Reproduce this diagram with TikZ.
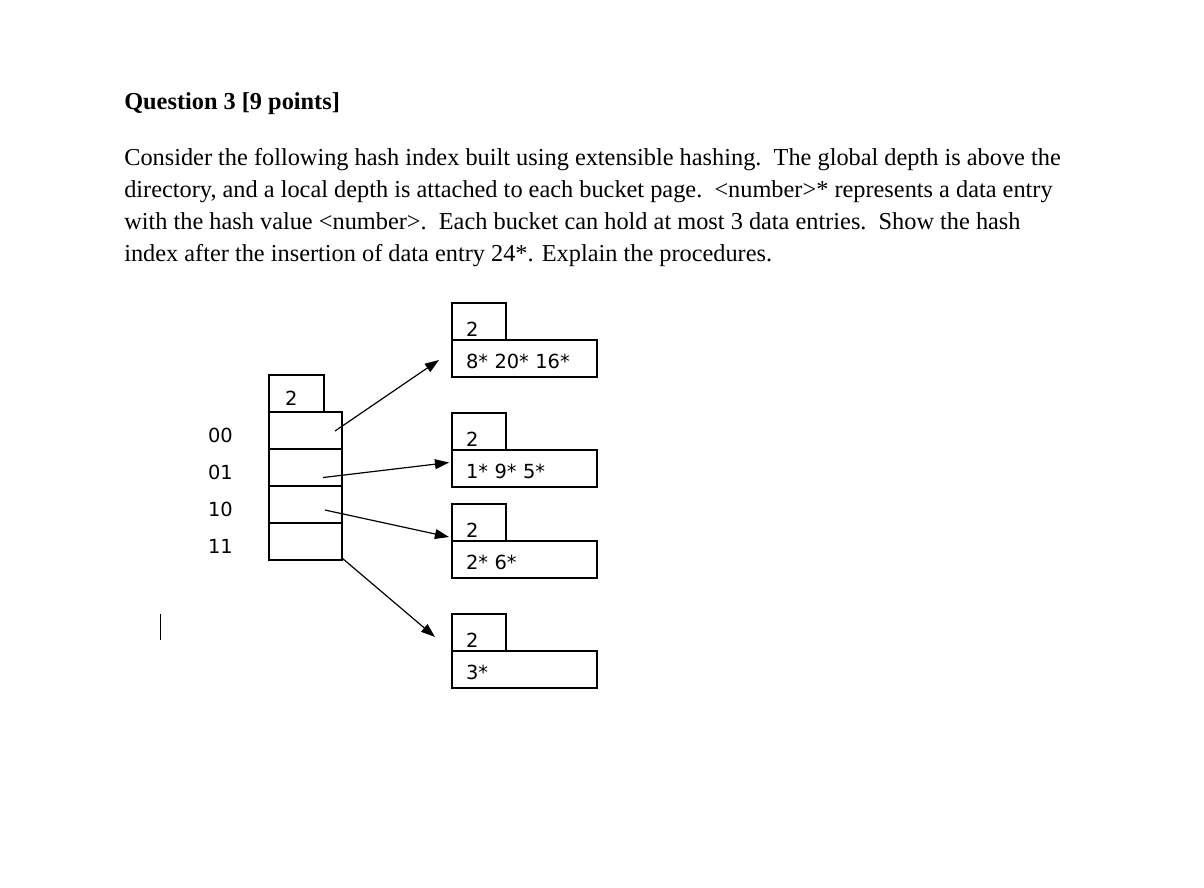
\documentclass[tikz,border=0pt]{standalone}
\usepackage{fontspec}
\setmainfont{Liberation Serif}
\newfontfamily\diagfont{DejaVu Sans}
\usetikzlibrary{positioning,calc,arrows.meta}

\begin{document}
\begin{tikzpicture}[x=0.025cm, y=-0.025cm,
  txt/.style={anchor=base west, inner sep=0pt, font=\fontsize{17.3}{20}\selectfont},
  dnum/.style={inner sep=0pt, font=\diagfont\fontsize{13.8}{15}\selectfont},
  cell/.style={draw, line width=0.9pt, minimum width=1.825cm, minimum height=0.925cm, inner sep=0pt, outer sep=0pt},
  depth/.style={dnum, draw, line width=0.9pt, anchor=north west, minimum height=0.925cm, inner xsep=0.35cm, inner ysep=0pt,
    outer sep=0pt, text width=0.65cm, align=left, text height=0.75cm, text depth=0pt},
  entries/.style={depth, text width=2.925cm, text height=0.51cm},
  ptr/.style={-{Triangle[length=10pt,width=7pt]}, line width=0.85pt}]
\useasboundingbox (0,0) rectangle (1204,888);
% question text
\node[txt, font=\bfseries\fontsize{17.3}{20}\selectfont] (title) at (124,109) {Question 3 [9 points]};
\node[txt] (line1) at (124,165) {Consider the following hash index built using extensible hashing.\ \ The global depth is above the};
\node[txt] (line2) at (124,197) {directory, and a local depth is attached to each bucket page.\ \ <number>* represents a data entry};
\node[txt] (line3) at (124,229) {with the hash value <number>.\ \ Each bucket can hold at most 3 data entries.\ \ Show the hash};
\node[txt] (line4) at (124,261) {index after the insertion of data entry 24*. Explain the procedures.};
\draw[line width=0.6pt] (160,614) -- (160,640);
% directory
\node[cell, anchor=north west] (d00) at (269,412) {};
\node[cell, below=0pt of d00] (d01) {};
\node[cell, below=0pt of d01] (d10) {};
\node[cell, below=0pt of d10] (d11) {};
\node[depth, anchor=south west, inner xsep=0.4cm, text width=0.575cm, text height=0.585cm] (gd) at (d00.north west) {2};
\node[dnum, left=0.9cm of d00, yshift=-0.125cm] (l00) {00};
\node[dnum, left=0.9cm of d01, yshift=-0.125cm] (l01) {01};
\node[dnum, left=0.9cm of d10, yshift=-0.125cm] (l10) {10};
\node[dnum, left=0.9cm of d11, yshift=-0.125cm] (l11) {11};
% buckets
\node[depth] (b1d) at (452,303) {2};
\node[entries] (b1) at (b1d.south west) {8* 20* 16*};
\node[depth] (b2d) at (452,413) {2};
\node[entries] (b2) at (b2d.south west) {1* 9* 5*};
\node[depth] (b3d) at (452,504) {2};
\node[entries] (b3) at (b3d.south west) {2* 6*};
\node[depth] (b4d) at (452,614) {2};
\node[entries] (b4) at (b4d.south west) {3*};
% pointers
\draw[ptr] ($(d00.east)+(-7,0.5)$) -- ($(b1.west)+(-13,1.5)$);
\draw[ptr] ($(d01.east)+(-19,10)$) -- ($(b2.west)+(-3,-6)$);
\draw[ptr] ($(d10.east)+(-17,5.5)$) -- ($(b3.north west)+(-3,-4)$);
\draw[ptr] ($(d11.south east)+(0,-2)$) -- ($(b4d.west)+(-17,4.5)$);
\end{tikzpicture}
\end{document}
